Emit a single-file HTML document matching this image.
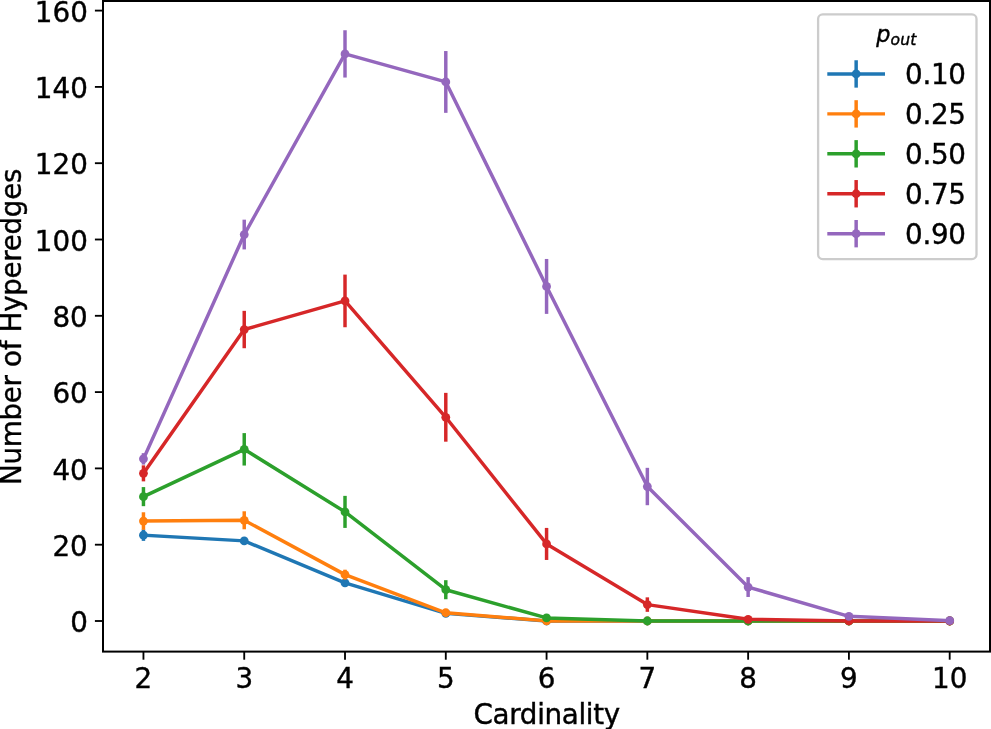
<!DOCTYPE html>
<html lang="en"><head><meta charset="utf-8"><title>Number of Hyperedges vs Cardinality</title>
<style>html,body{margin:0;padding:0;background:#fff;}body{width:991px;height:729px;overflow:hidden;}svg{display:block;}text{font-family:'DejaVu Sans', 'Liberation Sans', sans-serif;fill:#000;stroke:#000;stroke-width:0.4px;}</style>
</head><body>
<svg width="991" height="729" viewBox="0 0 991 729">
<rect x="0" y="0" width="991" height="729" fill="#ffffff"/>
<g stroke="#000" stroke-width="1.85" fill="none">
<line x1="143.45" y1="651.60" x2="143.45" y2="659.70"/>
<line x1="244.23" y1="651.60" x2="244.23" y2="659.70"/>
<line x1="345.01" y1="651.60" x2="345.01" y2="659.70"/>
<line x1="445.79" y1="651.60" x2="445.79" y2="659.70"/>
<line x1="546.57" y1="651.60" x2="546.57" y2="659.70"/>
<line x1="647.35" y1="651.60" x2="647.35" y2="659.70"/>
<line x1="748.13" y1="651.60" x2="748.13" y2="659.70"/>
<line x1="848.91" y1="651.60" x2="848.91" y2="659.70"/>
<line x1="949.69" y1="651.60" x2="949.69" y2="659.70"/>
<line x1="94.90" y1="621.00" x2="103.00" y2="621.00"/>
<line x1="94.90" y1="544.70" x2="103.00" y2="544.70"/>
<line x1="94.90" y1="468.40" x2="103.00" y2="468.40"/>
<line x1="94.90" y1="392.10" x2="103.00" y2="392.10"/>
<line x1="94.90" y1="315.80" x2="103.00" y2="315.80"/>
<line x1="94.90" y1="239.50" x2="103.00" y2="239.50"/>
<line x1="94.90" y1="163.20" x2="103.00" y2="163.20"/>
<line x1="94.90" y1="86.90" x2="103.00" y2="86.90"/>
<line x1="94.90" y1="10.60" x2="103.00" y2="10.60"/>
</g>
<g font-size="27.78">
<text x="143.45" y="688.20" text-anchor="middle">2</text>
<text x="244.23" y="688.20" text-anchor="middle">3</text>
<text x="345.01" y="688.20" text-anchor="middle">4</text>
<text x="445.79" y="688.20" text-anchor="middle">5</text>
<text x="546.57" y="688.20" text-anchor="middle">6</text>
<text x="647.35" y="688.20" text-anchor="middle">7</text>
<text x="748.13" y="688.20" text-anchor="middle">8</text>
<text x="848.91" y="688.20" text-anchor="middle">9</text>
<text x="949.69" y="688.20" text-anchor="middle">10</text>
<text x="87.80" y="632.20" text-anchor="end">0</text>
<text x="87.80" y="555.90" text-anchor="end">20</text>
<text x="87.80" y="479.60" text-anchor="end">40</text>
<text x="87.80" y="403.30" text-anchor="end">60</text>
<text x="87.80" y="327.00" text-anchor="end">80</text>
<text x="87.80" y="250.70" text-anchor="end">100</text>
<text x="87.80" y="174.40" text-anchor="end">120</text>
<text x="87.80" y="98.10" text-anchor="end">140</text>
<text x="87.80" y="21.80" text-anchor="end">160</text>
</g>
<text x="546.7" y="724.0" font-size="27.78" text-anchor="middle" letter-spacing="-0.34">Cardinality</text>
<text transform="translate(21,327.0) rotate(-90)" font-size="27.78" text-anchor="middle" letter-spacing="-0.33">Number of Hyperedges</text>
<g clip-path="none">
<g stroke="#1f77b4" fill="none" stroke-width="3.470">
<polyline points="143.45,535.16 244.23,540.88 345.01,582.85 445.79,613.37 546.57,621.00 647.35,621.00 748.13,621.00 848.91,621.00 949.69,621.00" stroke-linejoin="round" stroke-linecap="square"/>
<line x1="143.45" y1="529.44" x2="143.45" y2="540.88"/>
<line x1="244.23" y1="537.45" x2="244.23" y2="544.32"/>
<line x1="345.01" y1="579.80" x2="345.01" y2="585.90"/>
<line x1="445.79" y1="611.84" x2="445.79" y2="614.90"/>
<line x1="546.57" y1="620.62" x2="546.57" y2="621.38"/>
</g>
<g fill="#1f77b4" stroke="none">
<circle cx="143.45" cy="535.16" r="4.40"/>
<circle cx="244.23" cy="540.88" r="4.40"/>
<circle cx="345.01" cy="582.85" r="4.40"/>
<circle cx="445.79" cy="613.37" r="4.40"/>
<circle cx="546.57" cy="621.00" r="4.40"/>
<circle cx="647.35" cy="621.00" r="4.40"/>
<circle cx="748.13" cy="621.00" r="4.40"/>
<circle cx="848.91" cy="621.00" r="4.40"/>
<circle cx="949.69" cy="621.00" r="4.40"/>
</g>
<g stroke="#ff7f0e" fill="none" stroke-width="3.470">
<polyline points="143.45,521.05 244.23,520.28 345.01,574.65 445.79,612.76 546.57,620.89 647.35,621.00 748.13,621.00 848.91,621.00 949.69,621.00" stroke-linejoin="round" stroke-linecap="square"/>
<line x1="143.45" y1="512.27" x2="143.45" y2="529.82"/>
<line x1="244.23" y1="511.28" x2="244.23" y2="529.29"/>
<line x1="345.01" y1="569.69" x2="345.01" y2="579.61"/>
<line x1="445.79" y1="610.47" x2="445.79" y2="615.05"/>
<line x1="546.57" y1="620.50" x2="546.57" y2="621.27"/>
</g>
<g fill="#ff7f0e" stroke="none">
<circle cx="143.45" cy="521.05" r="4.40"/>
<circle cx="244.23" cy="520.28" r="4.40"/>
<circle cx="345.01" cy="574.65" r="4.40"/>
<circle cx="445.79" cy="612.76" r="4.40"/>
<circle cx="546.57" cy="620.89" r="4.40"/>
<circle cx="647.35" cy="621.00" r="4.40"/>
<circle cx="748.13" cy="621.00" r="4.40"/>
<circle cx="848.91" cy="621.00" r="4.40"/>
<circle cx="949.69" cy="621.00" r="4.40"/>
</g>
<g stroke="#2ca02c" fill="none" stroke-width="3.470">
<polyline points="143.45,496.63 244.23,449.32 345.01,511.89 445.79,589.72 546.57,617.95 647.35,621.00 748.13,621.00 848.91,621.00 949.69,621.00" stroke-linejoin="round" stroke-linecap="square"/>
<line x1="143.45" y1="487.09" x2="143.45" y2="506.17"/>
<line x1="244.23" y1="433.11" x2="244.23" y2="465.54"/>
<line x1="345.01" y1="495.87" x2="345.01" y2="527.91"/>
<line x1="445.79" y1="580.18" x2="445.79" y2="599.25"/>
<line x1="546.57" y1="616.04" x2="546.57" y2="619.86"/>
<line x1="647.35" y1="620.62" x2="647.35" y2="621.38"/>
</g>
<g fill="#2ca02c" stroke="none">
<circle cx="143.45" cy="496.63" r="4.40"/>
<circle cx="244.23" cy="449.32" r="4.40"/>
<circle cx="345.01" cy="511.89" r="4.40"/>
<circle cx="445.79" cy="589.72" r="4.40"/>
<circle cx="546.57" cy="617.95" r="4.40"/>
<circle cx="647.35" cy="621.00" r="4.40"/>
<circle cx="748.13" cy="621.00" r="4.40"/>
<circle cx="848.91" cy="621.00" r="4.40"/>
<circle cx="949.69" cy="621.00" r="4.40"/>
</g>
<g stroke="#d62728" fill="none" stroke-width="3.470">
<polyline points="143.45,473.36 244.23,329.53 345.01,300.92 445.79,417.28 546.57,543.94 647.35,604.60 748.13,619.28 848.91,620.92 949.69,621.00" stroke-linejoin="round" stroke-linecap="square"/>
<line x1="143.45" y1="465.35" x2="143.45" y2="481.37"/>
<line x1="244.23" y1="310.84" x2="244.23" y2="348.23"/>
<line x1="345.01" y1="274.60" x2="345.01" y2="327.25"/>
<line x1="445.79" y1="392.86" x2="445.79" y2="441.69"/>
<line x1="546.57" y1="527.91" x2="546.57" y2="559.96"/>
<line x1="647.35" y1="597.35" x2="647.35" y2="611.84"/>
<line x1="748.13" y1="617.38" x2="748.13" y2="621.19"/>
<line x1="848.91" y1="620.54" x2="848.91" y2="621.31"/>
</g>
<g fill="#d62728" stroke="none">
<circle cx="143.45" cy="473.36" r="4.40"/>
<circle cx="244.23" cy="329.53" r="4.40"/>
<circle cx="345.01" cy="300.92" r="4.40"/>
<circle cx="445.79" cy="417.28" r="4.40"/>
<circle cx="546.57" cy="543.94" r="4.40"/>
<circle cx="647.35" cy="604.60" r="4.40"/>
<circle cx="748.13" cy="619.28" r="4.40"/>
<circle cx="848.91" cy="620.92" r="4.40"/>
<circle cx="949.69" cy="621.00" r="4.40"/>
</g>
<g stroke="#9467bd" fill="none" stroke-width="3.470">
<polyline points="143.45,458.86 244.23,234.54 345.01,53.90 445.79,81.94 546.57,286.42 647.35,486.52 748.13,587.05 848.91,616.31 949.69,620.69" stroke-linejoin="round" stroke-linecap="square"/>
<line x1="143.45" y1="453.14" x2="143.45" y2="464.59"/>
<line x1="244.23" y1="219.66" x2="244.23" y2="249.42"/>
<line x1="345.01" y1="30.25" x2="345.01" y2="77.55"/>
<line x1="445.79" y1="51.04" x2="445.79" y2="112.84"/>
<line x1="546.57" y1="258.96" x2="546.57" y2="313.89"/>
<line x1="647.35" y1="467.83" x2="647.35" y2="505.21"/>
<line x1="748.13" y1="577.13" x2="748.13" y2="596.97"/>
<line x1="848.91" y1="613.26" x2="848.91" y2="619.36"/>
<line x1="949.69" y1="620.31" x2="949.69" y2="621.08"/>
</g>
<g fill="#9467bd" stroke="none">
<circle cx="143.45" cy="458.86" r="4.40"/>
<circle cx="244.23" cy="234.54" r="4.40"/>
<circle cx="345.01" cy="53.90" r="4.40"/>
<circle cx="445.79" cy="81.94" r="4.40"/>
<circle cx="546.57" cy="286.42" r="4.40"/>
<circle cx="647.35" cy="486.52" r="4.40"/>
<circle cx="748.13" cy="587.05" r="4.40"/>
<circle cx="848.91" cy="616.31" r="4.40"/>
<circle cx="949.69" cy="620.69" r="4.40"/>
</g>
</g>
<rect x="103.00" y="1.00" width="887.00" height="650.60" fill="none" stroke="#000" stroke-width="2.00"/>
<rect x="818.10" y="14.40" width="158.40" height="244.70" rx="4.6" ry="4.6" fill="#ffffff" fill-opacity="0.8" stroke="#cccccc" stroke-width="2.3"/>
<text x="876.3" y="41.5" font-size="22.30" font-style="italic">p<tspan font-size="15.60" dy="3.75" letter-spacing="0.2">out</tspan></text>
<g stroke="#1f77b4" stroke-width="3.470" fill="none">
<line x1="827.3" y1="73.95" x2="885.0" y2="73.95"/>
<line x1="856.15" y1="60.25" x2="856.15" y2="87.65"/>
</g>
<circle cx="856.15" cy="73.95" r="4.40" fill="#1f77b4"/>
<text x="905.1" y="84.05" font-size="27.78" letter-spacing="-0.3">0.10</text>
<g stroke="#ff7f0e" stroke-width="3.470" fill="none">
<line x1="827.3" y1="113.88" x2="885.0" y2="113.88"/>
<line x1="856.15" y1="100.18" x2="856.15" y2="127.58"/>
</g>
<circle cx="856.15" cy="113.88" r="4.40" fill="#ff7f0e"/>
<text x="905.1" y="123.98" font-size="27.78" letter-spacing="-0.3">0.25</text>
<g stroke="#2ca02c" stroke-width="3.470" fill="none">
<line x1="827.3" y1="153.81" x2="885.0" y2="153.81"/>
<line x1="856.15" y1="140.11" x2="856.15" y2="167.51"/>
</g>
<circle cx="856.15" cy="153.81" r="4.40" fill="#2ca02c"/>
<text x="905.1" y="163.91" font-size="27.78" letter-spacing="-0.3">0.50</text>
<g stroke="#d62728" stroke-width="3.470" fill="none">
<line x1="827.3" y1="193.74" x2="885.0" y2="193.74"/>
<line x1="856.15" y1="180.04" x2="856.15" y2="207.44"/>
</g>
<circle cx="856.15" cy="193.74" r="4.40" fill="#d62728"/>
<text x="905.1" y="203.84" font-size="27.78" letter-spacing="-0.3">0.75</text>
<g stroke="#9467bd" stroke-width="3.470" fill="none">
<line x1="827.3" y1="233.67" x2="885.0" y2="233.67"/>
<line x1="856.15" y1="219.97" x2="856.15" y2="247.37"/>
</g>
<circle cx="856.15" cy="233.67" r="4.40" fill="#9467bd"/>
<text x="905.1" y="243.77" font-size="27.78" letter-spacing="-0.3">0.90</text>
</svg></body></html>
